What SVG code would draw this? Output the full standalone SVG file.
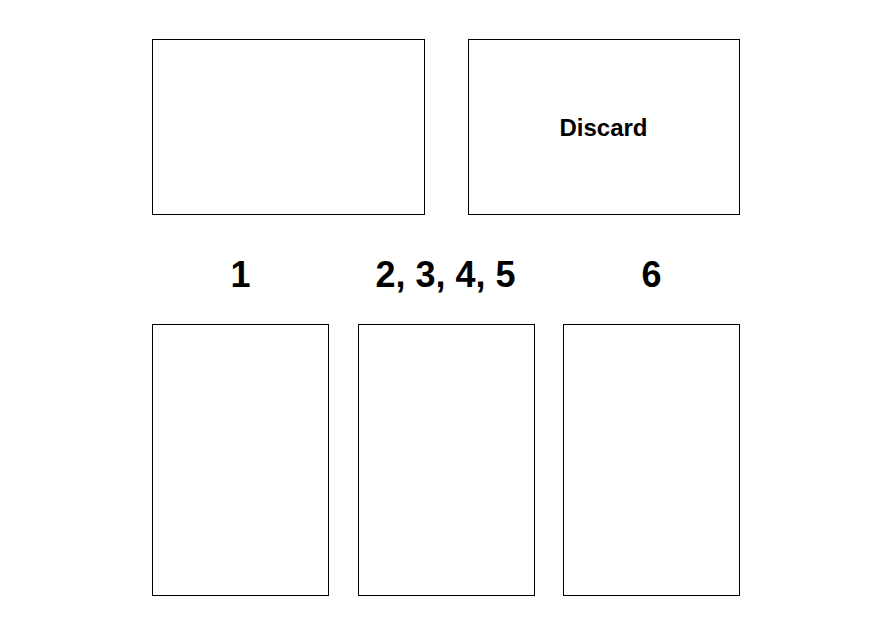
<svg xmlns="http://www.w3.org/2000/svg" width="882" height="621" viewBox="0 0 882 621">
<style>
.box{fill:#fff;stroke:#000;stroke-width:1}
.lbl{font-family:"Liberation Sans",Arial,sans-serif;font-weight:bold;fill:#000;text-anchor:middle}
</style>
<rect width="882" height="621" fill="#fff"/>
<g id="pile-top-left"><rect class="box" x="152.5" y="39.5" width="272" height="175"/></g>
<g id="discard"><rect class="box" x="468.5" y="39.5" width="271" height="175"/><text class="lbl" x="603.5" y="136" font-size="24">Discard</text></g>
<g id="label-1"><text class="lbl" x="240.5" y="287" font-size="36">1</text></g>
<g id="label-2345"><text class="lbl" x="445.5" y="287" font-size="36">2, 3, 4, 5</text></g>
<g id="label-6"><text class="lbl" x="651.5" y="287" font-size="36">6</text></g>
<g id="pile-1"><rect class="box" x="152.5" y="324.5" width="176" height="271"/></g>
<g id="pile-2"><rect class="box" x="358.5" y="324.5" width="176" height="271"/></g>
<g id="pile-3"><rect class="box" x="563.5" y="324.5" width="176" height="271"/></g>
<g id="connectors"></g>
</svg>
